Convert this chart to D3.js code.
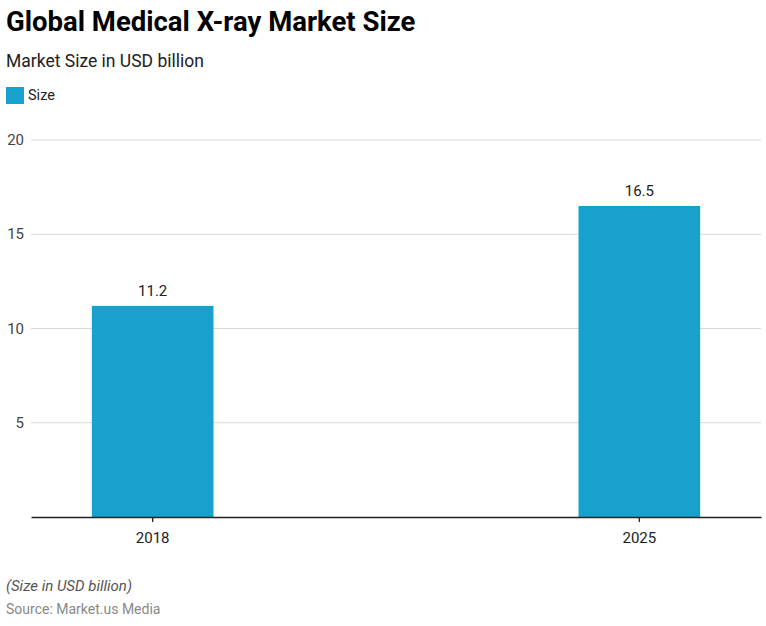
<!DOCTYPE html>
<html>
<head>
<meta charset="utf-8">
<script src="https://cdn.jsdelivr.net/npm/d3@7"></script>
<style>
  html, body { margin: 0; padding: 0; background: #fff; }
  svg { display: block; font-family: Roboto, "Noto Sans", sans-serif; }
</style>
</head>
<body>
<svg id="chart" width="766" height="626"></svg>
<script>
const categories = ["2018", "2025"];
const sizeValues = [11.2, 16.5];
const yTicks = [5, 10, 15, 20];
const seriesName = "Size";
const titleText = "Global Medical X-ray Market Size";
const subtitleText = "Market Size in USD billion";
const noteText = "(Size in USD billion)";
const sourceText = "Source: Market.us Media";

const svg = d3.select("#chart");
const color = "#18a1cd";

const plotLeft = 31, plotRight = 761, plotTop = 140, plotBottom = 517;

const x = d3.scaleBand().domain(categories).range([plotLeft, plotRight])
  .paddingInner(0.75).paddingOuter(0.125);
const y = d3.scaleLinear().domain([0, 20]).range([plotBottom, plotTop]);

// Title
svg.append("text").attr("x", 6).attr("y", 31)
  .attr("font-size", 27.5).attr("font-weight", "bold").attr("fill", "#000")
  .text(titleText);
svg.append("text").attr("x", 6).attr("y", 67)
  .attr("font-size", 17.5).attr("fill", "#222")
  .text(subtitleText);

// Legend
svg.append("rect").attr("x", 6).attr("y", 87).attr("width", 18).attr("height", 17).attr("fill", color);
svg.append("text").attr("x", 28).attr("y", 100).attr("font-size", 14.5).attr("fill", "#222").text(seriesName);

// Grid lines
svg.append("g").selectAll("line").data(yTicks).join("line")
  .attr("x1", plotLeft).attr("x2", plotRight)
  .attr("y1", d => y(d)).attr("y2", d => y(d))
  .attr("stroke", "#d9d9d9").attr("stroke-width", 1);

// Y labels
svg.append("g").selectAll("text").data(yTicks).join("text")
  .attr("x", 24).attr("y", d => y(d) + 5)
  .attr("text-anchor", "end").attr("font-size", 15).attr("fill", "#444")
  .text(d => d);

// Bars
const data = categories.map((c, i) => ({ c, v: sizeValues[i] }));
svg.append("g").selectAll("rect").data(data).join("rect")
  .attr("x", d => x(d.c)).attr("width", x.bandwidth())
  .attr("y", d => y(d.v)).attr("height", d => y(0) - y(d.v))
  .attr("fill", color);

// Value labels
svg.append("g").selectAll("text").data(data).join("text")
  .attr("x", d => x(d.c) + x.bandwidth() / 2).attr("y", d => y(d.v) - 10)
  .attr("text-anchor", "middle").attr("font-size", 15).attr("fill", "#222")
  .text(d => d.v);

// X axis
const xAxis = d3.axisBottom(x).tickSize(5).tickSizeOuter(0);
const gx = svg.append("g").attr("transform", `translate(0,${plotBottom})`).call(xAxis);
gx.select(".domain").attr("stroke", "#222").attr("stroke-width", 1.3);
gx.selectAll(".tick line").attr("stroke", "#222").attr("stroke-width", 1.3);
gx.selectAll(".tick text").attr("font-size", 15).attr("fill", "#222")
  .attr("font-family", "Roboto, sans-serif").attr("dy", "1.2em");

// Footer
svg.append("text").attr("x", 6).attr("y", 591)
  .attr("font-size", 15).attr("font-style", "italic").attr("fill", "#555")
  .text(noteText);
svg.append("text").attr("x", 6).attr("y", 614)
  .attr("font-size", 14).attr("fill", "#888")
  .text(sourceText);
</script>
</body>
</html>
